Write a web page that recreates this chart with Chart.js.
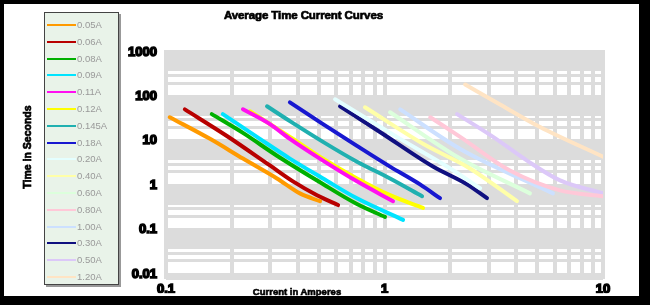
<!DOCTYPE html>
<html>
<head>
<meta charset="utf-8">
<script src="https://cdn.jsdelivr.net/npm/chart.js@4"></script>
<style>
  html, body { margin: 0; padding: 0; }
  body { width: 650px; height: 305px; background: #000; overflow: hidden; position: relative; font-family: 'Liberation Sans', Arial, sans-serif; }
  #frame { position: absolute; left: 4px; top: 4px; width: 635px; height: 292px; background: #fff; }
  #chart { position: absolute; left: 0; top: 0; }
  .title { position: absolute; left: 0; top: 5px; width: 599px; text-align: center; font-weight: bold; font-size: 11.5px; line-height: 12px; color: #000; -webkit-text-stroke: 0.7px #000; letter-spacing: -0.1px; }
  .ytitle { position: absolute; left: 23px; top: 143px; width: 100px; margin-left: -50px; margin-top: -6px; text-align: center; transform: rotate(-90deg); font-weight: bold; font-size: 10.5px; line-height: 12px; color: #000; -webkit-text-stroke: 0.7px #000; }
  .xtitle { position: absolute; left: 243px; top: 283px; width: 100px; text-align: center; font-weight: bold; font-size: 9.5px; line-height: 10px; color: #000; -webkit-text-stroke: 0.6px #000; }
  #legend { position: absolute; left: 40px; top: 8px; width: 73px; height: 271px; background: #e9f3e9; border: 1px solid #444; box-shadow: 2px 2px 0 #999; }
  .item { position: absolute; left: 0; height: 12px; width: 73px; }
  .item .swatch { position: absolute; left: 2px; top: 5px; width: 29px; height: 2px; }
  .item .lbl { position: absolute; left: 32px; top: 0; font-size: 9.5px; line-height: 12px; color: #999; }
</style>
</head>
<body>
<div id="frame">
  <canvas id="chart" width="635" height="292"></canvas>
  <div class="title">Average Time Current Curves</div>
  <div class="ytitle">Time in Seconds</div>
  <div class="xtitle">Current in Amperes</div>
  <div id="legend"></div>
</div>
<script>
// fuse ratings, in legend order
const ratings = ['0.05A', '0.06A', '0.08A', '0.09A', '0.11A', '0.12A', '0.145A', '0.18A',
                 '0.20A', '0.40A', '0.60A', '0.80A', '1.00A', '0.30A', '0.50A', '1.20A'];

// curves: [current (A), time (s)]
const c005 = [[0.104, 34], [0.159, 11.1], [0.225, 4.0], [0.322, 1.43], [0.41, 0.66], [0.507, 0.44]];
const c006 = [[0.122, 51], [0.19, 12.9], [0.299, 2.8], [0.381, 1.23], [0.491, 0.6], [0.613, 0.36]];
const c008 = [[0.162, 40], [0.225, 15.1], [0.322, 4.64], [0.507, 1.17], [0.748, 0.38], [1.005, 0.195]];
const c009 = [[0.182, 40], [0.269, 11.1], [0.369, 4.0], [0.523, 1.43], [0.748, 0.51], [1.216, 0.167]];
const c011 = [[0.225, 51.5], [0.299, 23.9], [0.369, 11.1], [0.523, 3.6], [0.748, 1.23], [1.094, 0.44]];
const c012 = [[0.242, 46.4], [0.369, 12.3], [0.523, 3.98], [0.748, 1.43], [1.06, 0.6], [1.5, 0.31]];
const c0145 = [[0.29, 60], [0.369, 27.8], [0.523, 9.5], [0.748, 3.4], [1.06, 1.43], [1.486, 0.57]];
const c018 = [[0.369, 73.6], [0.523, 23.9], [0.748, 7.74], [1.06, 2.64], [1.454, 1.05], [1.795, 0.514]];
const c020 = [[0.594, 86], [1.18, 11.1], [2.0, 2.4], [2.74, 0.86]];
const c040 = [[0.814, 57], [1.5, 8.6], [2.46, 2.4], [4.04, 0.44]];
const c060 = [[1.06, 44], [2.22, 4.0], [4.63, 0.66]];
const c080 = [[1.62, 34], [2.22, 12.3], [3.75, 2.15], [6.36, 0.77], [10, 0.57]];
const c100 = [[1.18, 51], [2.22, 6.6], [5.9, 0.66]];
const c030 = [[0.626, 60], [0.953, 15.85], [1.667, 2.64], [2.385, 1.05], [2.945, 0.514]];
const c050 = [[2.15, 40], [3.14, 12.3], [4.49, 3.6], [6.36, 1.29], [10, 0.66]];
const c120 = [[2.34, 185], [3.38, 66], [5.15, 20.5], [10, 4.4]];

const curves = [c005, c006, c008, c009, c011, c012, c0145, c018, c020, c040, c060, c080, c100, c030, c050, c120];

const colors = ['#ff9a00', '#b80000', '#00b000', '#00e4ff', '#ff10f0', '#ffff00', '#20b0b0', '#1818d0',
                '#e4ffff', '#ffffa8', '#dcffdc', '#ffc8d8', '#cce0ff', '#101080', '#dcc8f8', '#ffe4c4'];

const xRange = [0.1, 10];
const yRange = [0.00774, 1107];

// minor log ticks 1..9 x 10^n inside the range
function logTicks(min, max) {
    const out = [];
    for (let e = Math.floor(Math.log10(min)); e <= Math.ceil(Math.log10(max)); e++) {
        for (let k = 1; k < 10; k++) {
            const v = +(k * Math.pow(10, e)).toPrecision(3);
            if (v >= min * 0.999 && v <= max * 1.001) out.push({ value: v });
        }
    }
    return out;
}

const isDecade = v => Math.abs(Math.log10(v) - Math.round(Math.log10(v))) < 1e-6;

// gray plot area with white bands over the lower part of every decade
const plotBands = {
    id: 'plotBands',
    beforeDraw(chart) {
        const { ctx, chartArea: a, scales } = chart;
        ctx.save();
        ctx.fillStyle = '#dcdcdc';
        ctx.fillRect(a.left, a.top, a.right - a.left, a.bottom - a.top);
        ctx.fillStyle = '#ffffff';
        for (let e = -3; e <= 3; e++) {
            const lo = Math.pow(10, e), hi = 4 * Math.pow(10, e);
            let y1 = scales.y.getPixelForValue(hi);
            let y2 = scales.y.getPixelForValue(lo);
            y1 = Math.max(y1, a.top);
            y2 = Math.min(y2, a.bottom);
            if (y2 > y1) ctx.fillRect(a.left, y1, a.right - a.left, y2 - y1);
        }
        ctx.restore();
    }
};

const tickFont = { family: "'Liberation Sans', Arial, sans-serif", size: 13, weight: 'bold' };

new Chart(document.getElementById('chart'), {
    type: 'line',
    data: {
        datasets: curves.map((pts, i) => ({
            label: ratings[i],
            data: pts.map(p => ({ x: p[0], y: p[1] })),
            borderColor: colors[i],
            backgroundColor: colors[i],
            borderWidth: 4,
            pointRadius: 0,
            cubicInterpolationMode: 'monotone',
            borderCapStyle: 'round',
            fill: false
        }))
    },
    options: {
        responsive: false,
        animation: false,
        layout: { padding: { left: 122, right: 36, top: 46, bottom: 0 } },
        plugins: { legend: { display: false }, tooltip: { enabled: false } },
        scales: {
            x: {
                type: 'logarithmic',
                min: xRange[0],
                max: xRange[1],
                afterBuildTicks: s => { s.ticks = logTicks(s.min, s.max); },
                afterFit: s => { s.height = 14; },
                grid: { color: '#dcdcdc', lineWidth: 4, drawTicks: false },
                border: { display: false },
                ticks: {
                    autoSkip: false, maxRotation: 0, padding: 2,
                    color: '#000', font: tickFont, textStrokeColor: '#000', textStrokeWidth: 1.5,
                    callback: v => isDecade(v) ? String(v) : ''
                }
            },
            y: {
                type: 'logarithmic',
                min: yRange[0],
                max: yRange[1],
                afterBuildTicks: s => { s.ticks = logTicks(s.min, s.max); },
                afterFit: s => { s.width = 40; },
                grid: { color: '#dcdcdc', lineWidth: 3, drawTicks: false },
                border: { display: false },
                ticks: {
                    autoSkip: false, padding: 9,
                    color: '#000', font: tickFont, textStrokeColor: '#000', textStrokeWidth: 1.5,
                    callback: v => isDecade(v) ? String(v) : ''
                }
            }
        }
    },
    plugins: [plotBands]
});

// legend box on the left
const legend = document.getElementById('legend');
ratings.forEach((name, i) => {
    const item = document.createElement('div');
    item.className = 'item';
    item.style.top = (6 + i * 16.8) + 'px';
    item.innerHTML = `<span class="swatch" style="background:${colors[i]}"></span><span class="lbl">${name}</span>`;
    legend.appendChild(item);
});
</script>
</body>
</html>
